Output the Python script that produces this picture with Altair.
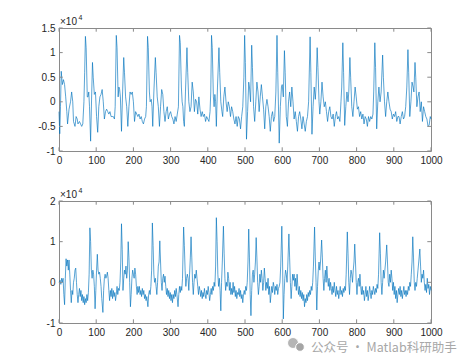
import altair as alt
import pandas as pd

# ---- data (values in units of 1e4) ----
TOP = [(0,-0.2),(2,-0.65),(4,-0.1),(6,0.62),(9,0.35),(12,0.45),(15,0.35),(18,0.1),(21,-0.2),(23,-0.45),(27,-0.15),(31,0.0),(34,0.2),(37,0.0),(39,-0.4),(43,-0.5),(46,-0.3),(49,-0.35),(51,-0.45),(55,-0.4),(58,-0.45),(61,-0.5),(64,-0.45),(67,0.0),(69,0.6),(71,1.33),(73,1.1),(76,0.1),(78,0.1),(80,0.2),(82,-0.1),(85,-0.8),(88,0.2),(90,0.8),(92,0.5),(95,0.15),(98,0.2),(101,-0.3),(104,-0.62),(107,-0.1),(110,0.1),(113,0.15),(116,0.25),(119,0.0),(122,-0.35),(125,-0.2),(128,-0.15),(131,-0.2),(134,-0.25),(137,-0.2),(140,-0.3),(143,-0.3),(146,-0.3),(149,-0.35),(151,-0.1),(154,1.35),(156,1.1),(159,0.1),(161,0.3),(163,0.25),(165,0.1),(168,-0.6),(171,0.2),(174,0.9),(176,0.6),(179,0.1),(182,-0.1),(185,-0.5),(188,-0.1),(191,0.2),(194,0.15),(197,0.2),(200,0.0),(203,-0.4),(206,-0.2),(209,-0.25),(212,-0.3),(215,-0.25),(218,-0.35),(221,-0.3),(224,-0.4),(227,-0.45),(230,-0.35),(233,-0.3),(235,-0.1),(238,1.33),(240,1.1),(243,0.2),(245,0.0),(248,0.05),(250,-0.1),(252,-0.5),(255,0.2),(259,0.9),(261,0.6),(264,0.1),(267,-0.1),(270,-0.5),(273,-0.1),(276,0.25),(279,0.15),(282,-0.2),(285,-0.4),(288,-0.2),(291,-0.1),(294,-0.35),(297,-0.25),(300,-0.2),(303,-0.3),(306,-0.35),(309,-0.45),(312,-0.3),(315,-0.4),(318,-0.25),(321,-0.1),(324,1.35),(326,1.2),(329,0.3),(331,0.0),(333,-0.1),(335,-0.4),(337,-0.5),(340,0.2),(344,1.1),(346,0.6),(349,0.0),(352,-0.2),(355,-0.1),(358,0.4),(361,0.2),(364,-0.2),(367,0.05),(370,0.0),(373,-0.25),(376,0.1),(379,-0.15),(382,-0.3),(385,-0.2),(388,-0.3),(391,-0.25),(394,-0.4),(397,-0.3),(400,-0.35),(403,-0.4),(406,-0.2),(408,0.2),(410,1.35),(412,1.1),(415,0.1),(417,-0.1),(419,0.15),(421,0.0),(423,-0.5),(426,0.3),(430,1.1),(432,0.6),(435,0.0),(438,-0.2),(440,-0.3),(443,0.1),(446,0.3),(449,0.0),(452,-0.2),(455,0.0),(458,-0.1),(461,-0.3),(464,-0.1),(467,-0.2),(470,-0.35),(473,-0.45),(476,-0.3),(479,-0.5),(482,-0.3),(485,-0.35),(488,-0.55),(491,-0.3),(494,-0.1),(497,0.5),(499,1.35),(501,0.8),(504,-0.76),(507,-0.2),(510,0.4),(512,0.3),(515,0.0),(518,1.15),(520,0.7),(523,-0.1),(526,-0.4),(529,0.0),(532,0.4),(535,0.2),(538,-0.2),(541,0.1),(544,0.35),(547,0.1),(550,-0.15),(553,-0.55),(556,-0.1),(559,0.05),(562,-0.1),(565,-0.3),(568,-0.6),(571,-0.3),(574,-0.2),(577,-0.4),(580,-0.3),(583,0.2),(586,1.35),(588,0.6),(592,-0.84),(595,-0.1),(598,0.3),(600,0.35),(603,0.1),(606,1.04),(608,0.6),(611,-0.3),(614,-0.5),(617,0.0),(620,0.2),(623,-0.1),(626,0.3),(629,0.0),(632,-0.35),(635,-0.2),(638,-0.4),(641,-0.6),(644,-0.3),(647,-0.2),(650,-0.35),(653,-0.55),(656,-0.3),(659,-0.45),(662,-0.6),(665,-0.4),(668,-0.3),(671,0.0),(675,1.32),(677,0.6),(680,-0.66),(683,-0.1),(686,0.3),(689,0.05),(691,0.3),(694,1.1),(696,0.7),(699,0.0),(701,-0.25),(704,0.0),(707,0.4),(710,0.1),(713,-0.1),(716,0.0),(719,-0.2),(722,-0.4),(725,-0.2),(728,-0.1),(731,-0.3),(734,-0.35),(737,-0.25),(740,-0.5),(743,-0.3),(746,-0.2),(749,-0.35),(752,-0.3),(755,-0.4),(758,0.0),(760,0.3),(763,1.2),(765,0.6),(768,-0.48),(771,-0.1),(774,0.2),(777,0.0),(779,0.2),(782,0.9),(784,0.5),(787,-0.1),(790,-0.3),(793,0.0),(796,0.3),(799,0.1),(802,-0.15),(805,-0.1),(808,-0.3),(811,-0.2),(814,-0.35),(817,-0.25),(820,-0.45),(823,-0.3),(826,-0.35),(829,-0.5),(832,-0.3),(835,-0.4),(838,-0.3),(841,-0.35),(844,-0.25),(846,0.2),(849,1.2),(851,0.7),(854,-0.55),(857,0.0),(860,0.3),(863,0.0),(866,0.2),(870,0.95),(872,0.5),(875,0.0),(878,-0.3),(881,0.0),(884,0.2),(887,0.0),(890,-0.15),(893,-0.2),(896,-0.35),(899,-0.25),(902,-0.3),(905,-0.2),(908,-0.4),(911,-0.3),(914,-0.3),(917,-0.45),(920,-0.3),(923,-0.2),(926,-0.35),(929,-0.3),(932,-0.1),(935,0.3),(938,1.06),(940,0.6),(943,-0.3),(946,0.0),(949,0.4),(952,0.3),(954,0.2),(957,0.8),(959,0.5),(962,-0.1),(965,0.1),(968,0.2),(971,-0.2),(974,0.0),(977,-0.4),(980,-0.1),(983,-0.2),(986,-0.3),(989,-0.35),(992,-0.5),(995,-0.48),(998,-0.3),(1000,-0.35)]

BOT = [(0,0.0),(3,0.05),(5,-0.05),(7,0.1),(9,0.0),(11,0.1),(13,-0.3),(15,-0.55),(17,0.1),(19,0.58),(21,0.4),(23,0.55),(25,0.3),(27,0.55),(29,0.2),(31,-0.2),(33,-0.5),(35,-0.2),(37,-0.3),(39,0.0),(41,0.1),(43,0.3),(45,0.35),(47,0.0),(49,-0.3),(51,-0.5),(53,-0.3),(55,-0.15),(57,-0.35),(59,-0.2),(61,-0.45),(63,-0.3),(65,-0.5),(67,-0.35),(69,-0.55),(71,-0.4),(73,-0.5),(75,-0.3),(77,-0.45),(79,-0.25),(81,0.2),(83,1.34),(85,1.0),(87,0.3),(89,0.1),(91,0.3),(93,0.2),(95,-0.1),(97,-0.65),(99,-0.2),(101,0.3),(103,0.69),(105,0.3),(107,0.2),(109,0.25),(111,0.1),(113,-0.1),(115,-0.4),(118,-0.74),(120,-0.2),(122,0.1),(124,0.2),(126,0.1),(128,0.15),(130,0.25),(132,0.1),(134,-0.2),(136,-0.45),(138,-0.2),(140,-0.35),(142,-0.15),(144,-0.4),(146,-0.2),(148,-0.35),(150,-0.25),(152,-0.45),(154,-0.3),(156,-0.1),(158,-0.3),(160,-0.15),(162,-0.2),(164,0.0),(166,0.5),(168,1.44),(170,0.8),(172,-0.2),(174,0.1),(176,0.3),(178,0.2),(180,0.4),(182,0.1),(184,0.3),(186,1.0),(188,0.6),(190,0.0),(192,-0.6),(194,-0.3),(196,0.1),(198,0.3),(200,0.2),(202,0.1),(204,0.35),(206,0.2),(208,-0.1),(210,-0.3),(212,-0.1),(214,-0.25),(216,-0.1),(218,-0.3),(220,-0.2),(222,-0.35),(224,-0.15),(226,-0.3),(228,-0.2),(230,-0.4),(232,-0.3),(234,-0.45),(236,-0.35),(239,-0.6),(241,-0.3),(243,-0.2),(245,-0.3),(247,-0.1),(249,0.3),(251,1.46),(253,0.9),(255,0.2),(257,0.0),(259,0.1),(261,-0.1),(263,-0.3),(265,0.0),(267,0.4),(269,0.5),(271,1.02),(273,0.5),(275,0.0),(277,-0.2),(279,0.1),(281,0.2),(283,0.0),(285,0.15),(287,-0.1),(289,-0.3),(291,-0.15),(293,-0.35),(295,-0.2),(297,-0.4),(299,-0.25),(301,-0.45),(303,-0.3),(305,-0.5),(307,-0.3),(309,-0.4),(311,-0.2),(313,-0.35),(315,-0.15),(317,-0.3),(320,-0.6),(322,-0.3),(324,-0.1),(326,-0.25),(328,-0.1),(330,-0.2),(332,0.1),(335,1.36),(337,0.9),(339,0.3),(341,-0.1),(343,0.1),(345,0.2),(347,0.1),(349,-0.2),(351,0.2),(353,0.6),(355,1.12),(357,0.6),(359,0.0),(361,-0.3),(363,0.0),(365,0.2),(367,0.1),(369,0.3),(371,0.1),(373,-0.1),(375,-0.3),(377,-0.1),(379,-0.2),(381,-0.35),(383,-0.2),(385,-0.4),(387,-0.25),(389,-0.35),(391,-0.15),(393,-0.3),(395,-0.4),(397,-0.2),(399,-0.3),(401,-0.1),(403,-0.25),(405,-0.45),(407,-0.3),(409,-0.15),(411,-0.3),(413,-0.1),(415,-0.2),(417,0.0),(419,-0.1),(421,0.4),(423,1.59),(425,1.0),(427,0.2),(429,-0.1),(431,0.1),(433,-0.2),(435,-0.7),(437,0.0),(439,0.5),(442,1.38),(444,0.7),(446,0.1),(448,-0.2),(450,0.0),(452,-0.1),(454,0.25),(456,0.1),(458,-0.2),(460,0.0),(462,-0.3),(464,-0.15),(466,-0.3),(468,0.0),(470,-0.25),(472,-0.1),(474,-0.35),(476,-0.2),(478,-0.4),(480,-0.25),(482,-0.3),(484,-0.15),(486,-0.35),(488,-0.2),(490,-0.4),(492,-0.3),(494,-0.5),(496,-0.3),(498,-0.2),(500,-0.3),(502,-0.1),(504,-0.2),(506,0.0),(508,0.5),(510,1.31),(512,0.6),(514,-0.3),(516,-0.82),(518,-0.2),(520,0.2),(522,0.3),(524,0.0),(526,0.2),(528,0.5),(530,1.1),(532,0.6),(534,0.0),(536,-0.3),(538,-0.1),(540,0.2),(542,0.0),(544,0.3),(546,0.1),(548,-0.2),(550,0.0),(552,0.35),(554,0.1),(556,-0.2),(558,0.0),(560,-0.15),(562,0.1),(564,-0.3),(566,-0.1),(568,-0.5),(570,-0.3),(572,-0.1),(574,-0.25),(576,0.0),(578,-0.1),(580,-0.3),(582,-0.1),(584,-0.2),(586,-0.05),(588,-0.3),(590,-0.15),(592,-0.1),(594,0.0),(596,0.4),(599,1.38),(601,0.5),(603,-0.9),(605,-0.3),(607,0.1),(609,0.3),(611,0.2),(613,0.0),(615,0.4),(618,1.19),(620,0.6),(622,0.0),(624,-0.4),(626,-0.1),(628,0.2),(630,0.05),(632,0.2),(634,-0.1),(636,0.1),(638,-0.2),(640,0.2),(642,-0.1),(644,-0.3),(646,-0.1),(648,-0.35),(650,-0.2),(652,-0.4),(654,-0.25),(656,-0.45),(658,-0.3),(660,-0.6),(662,-0.4),(664,-0.5),(666,-0.3),(668,-0.45),(670,-0.25),(672,-0.35),(674,-0.2),(676,-0.3),(678,-0.1),(680,-0.2),(682,0.0),(684,0.4),(687,1.36),(689,0.6),(691,0.0),(693,-0.68),(695,-0.1),(697,0.3),(699,0.5),(701,0.3),(703,0.5),(706,1.04),(708,0.6),(710,0.1),(712,-0.2),(714,0.1),(716,0.3),(718,0.0),(720,0.4),(722,0.1),(724,-0.1),(726,0.1),(728,-0.2),(730,0.0),(732,-0.15),(734,-0.3),(736,-0.1),(738,-0.25),(740,0.0),(742,-0.2),(744,-0.35),(746,-0.1),(748,-0.3),(750,-0.2),(752,-0.4),(754,-0.25),(756,-0.1),(758,-0.3),(760,-0.2),(762,-0.35),(764,-0.15),(766,-0.25),(768,-0.1),(770,-0.2),(772,0.2),(775,1.24),(777,0.7),(779,0.0),(781,-0.3),(783,0.1),(785,0.3),(787,0.2),(789,0.0),(791,0.3),(793,0.5),(795,0.94),(797,0.5),(799,0.0),(801,-0.3),(803,0.0),(805,0.1),(807,-0.1),(809,0.2),(811,-0.1),(813,-0.3),(815,-0.1),(817,-0.3),(819,-0.2),(821,-0.45),(823,-0.3),(825,-0.1),(827,-0.35),(829,-0.2),(831,-0.45),(833,-0.3),(835,-0.1),(837,-0.25),(839,-0.4),(841,-0.2),(843,-0.3),(845,-0.1),(847,-0.2),(849,-0.3),(851,-0.15),(853,-0.25),(855,-0.05),(857,-0.15),(859,0.2),(862,1.22),(864,0.7),(866,0.0),(868,-0.3),(870,0.0),(872,0.3),(874,0.1),(876,0.3),(878,0.5),(881,0.92),(883,0.5),(885,0.0),(887,-0.1),(889,0.2),(891,0.0),(893,0.3),(895,0.1),(897,-0.2),(899,0.0),(901,-0.3),(903,-0.1),(905,-0.4),(907,-0.2),(909,-0.5),(911,-0.3),(913,-0.15),(915,-0.3),(917,-0.1),(919,-0.35),(921,-0.2),(923,-0.4),(925,-0.25),(927,-0.1),(929,-0.3),(931,-0.2),(933,-0.35),(935,-0.2),(937,-0.3),(939,-0.1),(941,-0.2),(943,0.0),(945,-0.1),(947,0.2),(949,0.5),(951,1.12),(953,0.6),(955,0.0),(957,-0.2),(959,0.0),(961,-0.1),(963,0.1),(965,0.3),(967,0.5),(970,0.82),(972,0.4),(974,0.0),(976,0.2),(978,0.1),(980,0.3),(982,0.0),(984,-0.2),(986,-0.05),(988,-0.25),(990,0.1),(992,-0.15),(994,-0.05),(996,-0.3),(998,-0.1),(1000,-0.2)]

X_TICKS = [0, 100, 200, 300, 400, 500, 600, 700, 800, 900, 1000]
TOP_Y_TICKS = [-1, -0.5, 0, 0.5, 1, 1.5]
BOT_Y_TICKS = [-1, 0, 1, 2]
EXP_BASE = "×10"
EXP_POW = "4"
WATERMARK = "公众号 · Matlab科研助手"

# ---- styling ----
W = 372
LINE = "#0072BD"
TICK = "#8a8a8a"
TXT = "#262626"
TL = 3.7


def panel(pts, yticks, ydom, H, watermark=False):
    df = pd.DataFrame(pts, columns=["x", "y"])
    xs = alt.Scale(domain=[0, 1000], nice=False)
    ys = alt.Scale(domain=ydom, nice=False, zero=False)
    xaxis = alt.Axis(values=X_TICKS, tickSize=0, domain=False, grid=False, labelFlush=False,
                     labelPadding=4, title=None, labelExpr="'' + datum.value")
    yaxis = alt.Axis(values=yticks, tickSize=0, domain=False, grid=False, labelFlush=False,
                     labelPadding=4, title=None, minExtent=45, maxExtent=45,
                     labelExpr="'' + datum.value")
    line = alt.Chart(df).mark_line(color=LINE, strokeWidth=0.65).encode(
        x=alt.X("x:Q", scale=xs, axis=xaxis),
        y=alt.Y("y:Q", scale=ys, axis=yaxis),
    )
    xt = pd.DataFrame({"t": X_TICKS})
    yt = pd.DataFrame({"t": yticks})
    xrule = alt.Chart(xt).mark_rule(color=TICK, strokeWidth=1)
    yrule = alt.Chart(yt).mark_rule(color=TICK, strokeWidth=1)
    xb = xrule.encode(x=alt.X("t:Q", scale=xs, axis=xaxis), y=alt.value(H), y2=alt.value(H - TL))
    xtop = xrule.encode(x=alt.X("t:Q", scale=xs, axis=xaxis), y=alt.value(0), y2=alt.value(TL))
    yl = yrule.encode(y=alt.Y("t:Q", scale=ys, axis=yaxis), x=alt.value(0), x2=alt.value(TL))
    yr = yrule.encode(y=alt.Y("t:Q", scale=ys, axis=yaxis), x=alt.value(W), x2=alt.value(W - TL))
    one = pd.DataFrame({"a": [0]})
    e1 = alt.Chart(one).mark_text(text=EXP_BASE, align="left", baseline="alphabetic", fontSize=10,
                                  font="Liberation Sans", color=TXT).encode(x=alt.value(1), y=alt.value(-3))
    e2 = alt.Chart(one).mark_text(text=EXP_POW, align="left", baseline="alphabetic", fontSize=7,
                                  font="Liberation Sans", color=TXT).encode(x=alt.value(19.5), y=alt.value(-8.5))
    layers = [line, xb, xtop, yl, yr, e1, e2]
    if watermark:
        c1 = alt.Chart(one).mark_point(shape="circle", filled=True, color="#b5b5b5", size=120, opacity=1,
                                       stroke="white", strokeWidth=1).encode(x=alt.value(234), y=alt.value(H + 20))
        c2 = alt.Chart(one).mark_point(shape="circle", filled=True, color="#a5a5a5", size=75, opacity=1,
                                       stroke="white", strokeWidth=1).encode(x=alt.value(241), y=alt.value(H + 24))
        wm = alt.Chart(one).mark_text(text=WATERMARK, align="left", baseline="middle", fontSize=12.5,
                                      font="Noto Sans CJK SC", color="#a8a8a8").encode(
            x=alt.value(252), y=alt.value(H + 24.5))
        layers += [c1, c2, wm]
    return alt.layer(*layers).properties(width=W, height=H)


top = panel(TOP, TOP_Y_TICKS, [-1, 1.5], 123)
bot = panel(BOT, BOT_Y_TICKS, [-1, 2], 122, watermark=True)

chart = alt.vconcat(top, bot, spacing=20).properties(padding=5).configure_view(
    stroke=TICK, strokeWidth=1
).configure_axis(
    labelFont="Liberation Sans", labelFontSize=10, labelColor=TXT
)

chart.save("out.html", embed_options={"renderer": "svg", "actions": False})
